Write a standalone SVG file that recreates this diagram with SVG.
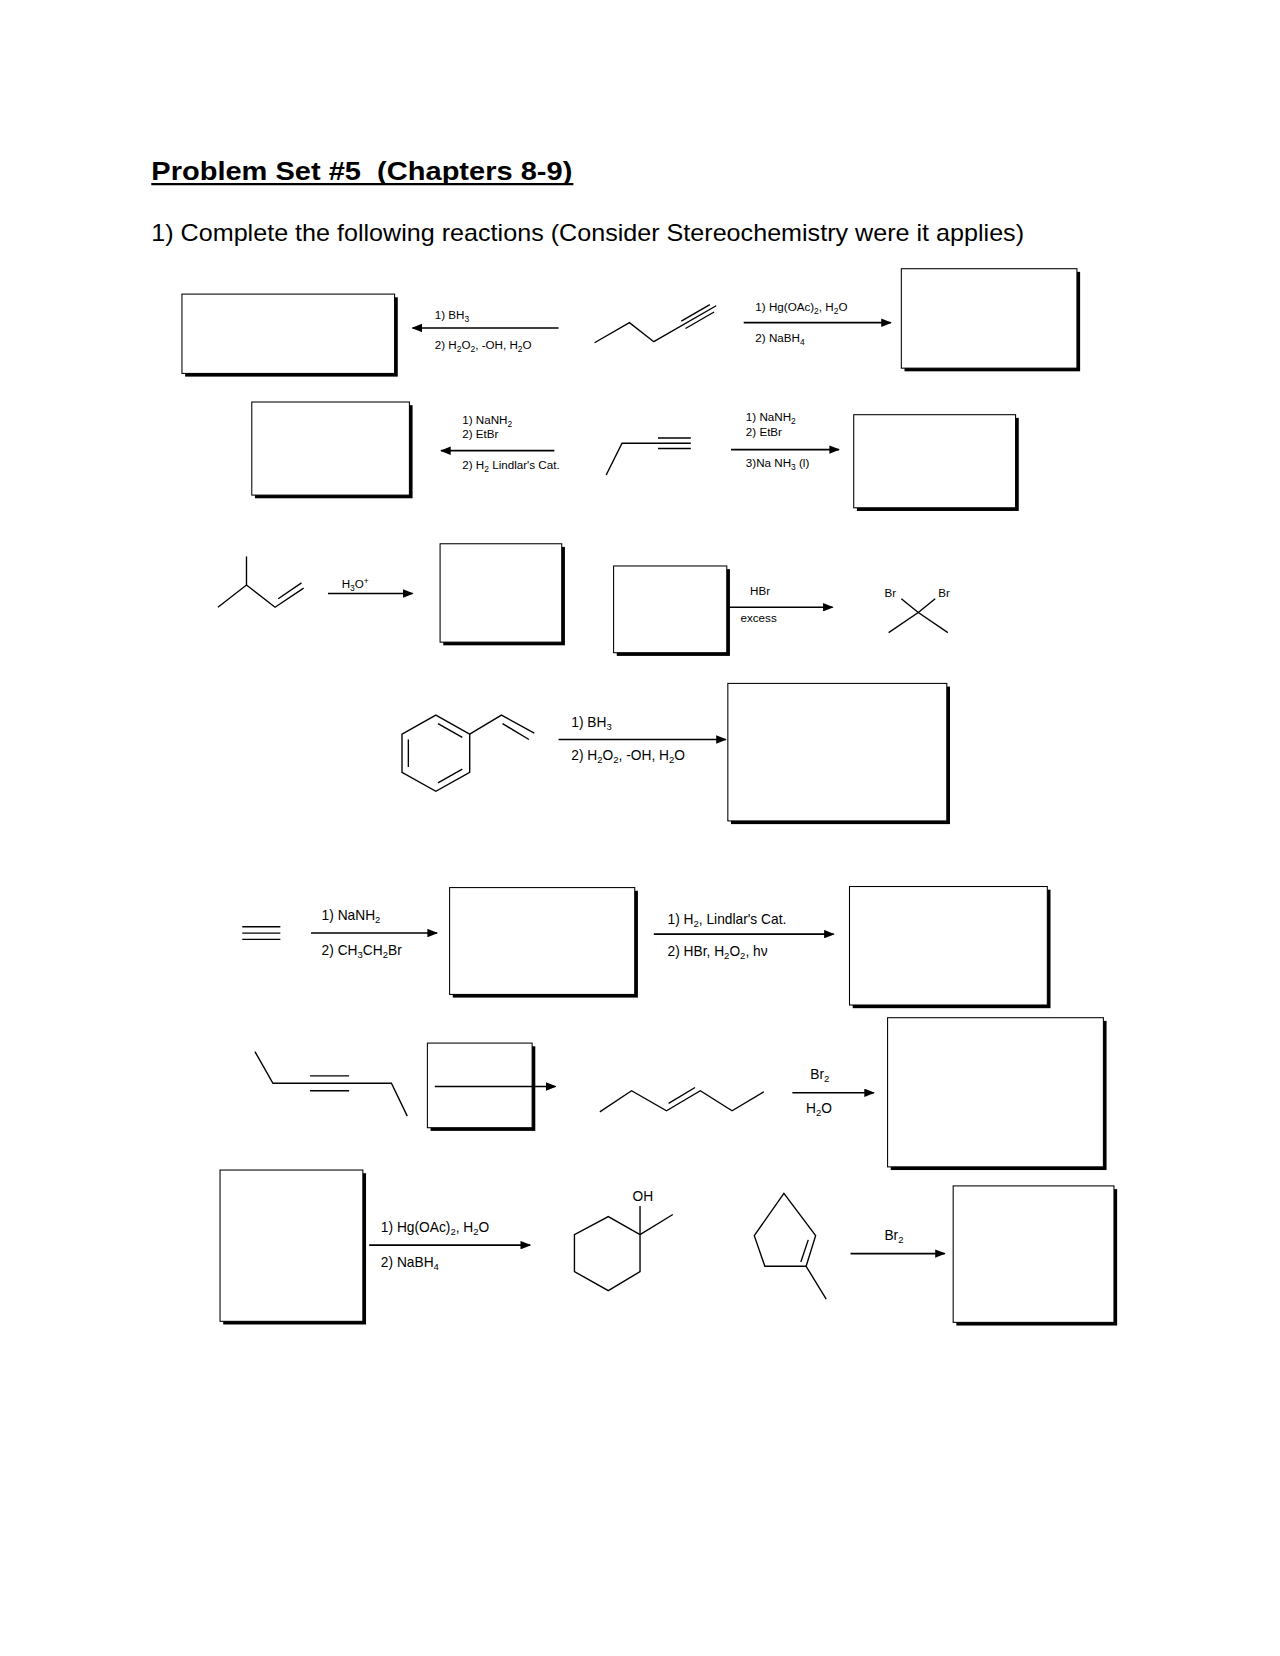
<svg xmlns="http://www.w3.org/2000/svg" width="1280" height="1656" viewBox="0 0 1280 1656">
<style>
text{font-family:"Liberation Sans",Arial,sans-serif;fill:#000}
.t{font-size:11px}.m{font-size:13px}
.s{font-size:8px;baseline-shift:-3px}.sm{font-size:9px;baseline-shift:-3px}
.b line,.b polyline,.b polygon{stroke:#000;stroke-width:1.3;fill:none}
.a{stroke:#000;stroke-width:1.5;fill:none}
.sh{fill:#000}.bx{fill:#fff;stroke:#000;stroke-width:1}
</style>
<defs>
<marker id="ah" markerWidth="10" markerHeight="8" refX="9" refY="4" orient="auto" markerUnits="userSpaceOnUse"><path d="M0,0 L10,4 L0,8 Z" fill="#000"/></marker>
</defs>
<rect width="1280" height="1656" fill="#fff"/>
<g transform="scale(1.0579)">
<g id="title">
<text x="143" y="170" font-size="25" font-weight="bold" xml:space="preserve" textLength="398" lengthAdjust="spacingAndGlyphs">Problem Set #5  (Chapters 8-9)</text>
<line x1="143" y1="174" x2="542" y2="174" stroke="#000" stroke-width="2"/>
<text x="143" y="228" font-size="22.5" textLength="825" lengthAdjust="spacingAndGlyphs">1) Complete the following reactions (Consider Stereochemistry were it applies)</text>
</g>
<g id="boxes">
<g id="box1"><rect class="sh" x="175" y="281" width="201" height="75"/><rect class="bx" x="172" y="278" width="201" height="75"/></g>
<g id="box2"><rect class="sh" x="855" y="257" width="166" height="94"/><rect class="bx" x="852" y="254" width="166" height="94"/></g>
<g id="box3"><rect class="sh" x="241" y="383" width="149" height="88"/><rect class="bx" x="238" y="380" width="149" height="88"/></g>
<g id="box4"><rect class="sh" x="810" y="395" width="153" height="88"/><rect class="bx" x="807" y="392" width="153" height="88"/></g>
<g id="box5"><rect class="sh" x="419" y="517" width="115" height="93"/><rect class="bx" x="416" y="514" width="115" height="93"/></g>
<g id="box6"><rect class="sh" x="583" y="538" width="107" height="82"/><rect class="bx" x="580" y="535" width="107" height="82"/></g>
<g id="box7"><rect class="sh" x="691" y="649" width="207" height="130"/><rect class="bx" x="688" y="646" width="207" height="130"/></g>
<g id="box8"><rect class="sh" x="428" y="842" width="175" height="101"/><rect class="bx" x="425" y="839" width="175" height="101"/></g>
<g id="box9"><rect class="sh" x="806" y="841" width="187" height="112"/><rect class="bx" x="803" y="838" width="187" height="112"/></g>
<g id="box10"><rect class="sh" x="407" y="989" width="99" height="80"/><rect class="bx" x="404" y="986" width="99" height="80"/></g>
<g id="box11"><rect class="sh" x="842" y="965" width="204" height="141"/><rect class="bx" x="839" y="962" width="204" height="141"/></g>
<g id="box12"><rect class="sh" x="211" y="1109" width="135" height="143"/><rect class="bx" x="208" y="1106" width="135" height="143"/></g>
<g id="box13"><rect class="sh" x="904" y="1124" width="152" height="129"/><rect class="bx" x="901" y="1121" width="152" height="129"/></g>
</g>
<g id="molecules" class="b">
<g id="butyne"><polyline points="562,324 595,305 618,323 677,289"/><line x1="646" y1="307" x2="673" y2="291.4" transform="translate(-2,-3.5)"/><line x1="646" y1="307" x2="673" y2="291.4" transform="translate(2,3.5)"/></g>
<g id="propyne"><polyline points="573,449 588,419 653,419"/><line x1="622" y1="414" x2="653" y2="414"/><line x1="622" y1="424" x2="653" y2="424"/></g>
<g id="methylbutene"><line x1="233" y1="526" x2="233" y2="553"/><polyline points="206,574 233,553 260,574 287,556"/><line x1="263" y1="566" x2="285" y2="551"/></g>
<g id="dibromide"><line x1="868" y1="579" x2="840" y2="598"/><line x1="868" y1="579" x2="896" y2="598"/><line x1="868" y1="579" x2="852" y2="566"/><line x1="868" y1="579" x2="884" y2="566"/></g>
<g id="styrene"><polygon points="412,676 444,694 444,730 412,748 380,730 380,694"/><line x1="386" y1="699" x2="386" y2="725"/><line x1="414" y1="684" x2="437" y2="697"/><line x1="414" y1="740" x2="437" y2="727"/><polyline points="444,694 474,676 505,693"/><line x1="475" y1="684" x2="500" y2="699"/></g>
<g id="ethyne"><line x1="229" y1="876" x2="265" y2="876"/><line x1="229" y1="882" x2="265" y2="882"/><line x1="229" y1="888" x2="265" y2="888"/></g>
<g id="hexyne"><polyline points="241,994 258,1024 370,1024 385,1055"/><line x1="293" y1="1017" x2="330" y2="1017"/><line x1="293" y1="1031" x2="330" y2="1031"/></g>
<g id="hexene"><polyline points="567,1051 597,1031 630,1050 662,1031 692,1050 722,1032"/><line x1="632" y1="1043" x2="657" y2="1028"/></g>
<g id="methylcyclohexanol"><polygon points="605,1167 575,1150 543,1167 543,1202 575,1220 605,1202"/><line x1="605" y1="1167" x2="605" y2="1140"/><line x1="605" y1="1167" x2="636" y2="1148"/></g>
<g id="methylcyclopentene"><polygon points="741,1128 771,1168 762,1197 723,1197 713,1168"/><line x1="764" y1="1172" x2="757" y2="1193"/><line x1="762" y1="1197" x2="781" y2="1228"/></g>
</g>
<g id="connectors">
<line class="a" x1="528" y1="310" x2="390" y2="310" marker-end="url(#ah)"/>
<line class="a" x1="703" y1="305" x2="842" y2="305" marker-end="url(#ah)"/>
<line class="a" x1="524" y1="426" x2="417" y2="426" marker-end="url(#ah)"/>
<line class="a" x1="691" y1="425" x2="793" y2="425" marker-end="url(#ah)"/>
<line class="a" x1="310" y1="561" x2="390" y2="561" marker-end="url(#ah)"/>
<line class="a" x1="689" y1="574" x2="787" y2="574" marker-end="url(#ah)"/>
<line class="a" x1="528" y1="699" x2="686" y2="699" marker-end="url(#ah)"/>
<line class="a" x1="294" y1="882" x2="413" y2="882" marker-end="url(#ah)"/>
<line class="a" x1="618" y1="883" x2="788" y2="883" marker-end="url(#ah)"/>
<line class="a" x1="411" y1="1027" x2="525" y2="1027" marker-end="url(#ah)"/>
<line class="a" x1="749" y1="1033" x2="826" y2="1033" marker-end="url(#ah)"/>
<line class="a" x1="349" y1="1177" x2="501" y2="1177" marker-end="url(#ah)"/>
<line class="a" x1="804" y1="1185" x2="893" y2="1185" marker-end="url(#ah)"/>
</g>
<g id="labels">
<text class="t" x="411" y="302">1) BH<tspan class="s">3</tspan></text>
<text class="t" x="411" y="330">2) H<tspan class="s">2</tspan><tspan>O</tspan><tspan class="s">2</tspan><tspan>, -OH, H</tspan><tspan class="s">2</tspan><tspan>O</tspan></text>
<text class="t" x="714" y="294">1) Hg(OAc)<tspan class="s">2</tspan><tspan>, H</tspan><tspan class="s">2</tspan><tspan>O</tspan></text>
<text class="t" x="714" y="323">2) NaBH<tspan class="s">4</tspan></text>
<text class="t" x="437" y="401">1) NaNH<tspan class="s">2</tspan></text>
<text class="t" x="437" y="414">2) EtBr</text>
<text class="t" x="437" y="443">2) H<tspan class="s">2</tspan><tspan> Lindlar's Cat.</tspan></text>
<text class="t" x="705" y="398">1) NaNH<tspan class="s">2</tspan></text>
<text class="t" x="705" y="412">2) EtBr</text>
<text class="t" x="705" y="441">3)Na NH<tspan class="s">3</tspan><tspan> (l)</tspan></text>
<text class="t" x="323" y="556">H<tspan class="s">3</tspan><tspan>O</tspan><tspan font-size="8" baseline-shift="4px">+</tspan></text>
<text class="t" x="709" y="562">HBr</text>
<text class="t" x="700" y="588">excess</text>
<text class="t" x="836" y="564">Br</text>
<text class="t" x="887" y="564">Br</text>
<text class="m" x="540" y="687">1) BH<tspan class="sm">3</tspan></text>
<text class="m" x="540" y="718">2) H<tspan class="sm">2</tspan><tspan>O</tspan><tspan class="sm">2</tspan><tspan>, -OH, H</tspan><tspan class="sm">2</tspan><tspan>O</tspan></text>
<text class="m" x="304" y="870">1) NaNH<tspan class="sm">2</tspan></text>
<text class="m" x="304" y="903">2) CH<tspan class="sm">3</tspan><tspan>CH</tspan><tspan class="sm">2</tspan><tspan>Br</tspan></text>
<text class="m" x="631" y="873">1) H<tspan class="sm">2</tspan><tspan>, Lindlar's Cat.</tspan></text>
<text class="m" x="631" y="904">2) HBr, H<tspan class="sm">2</tspan><tspan>O</tspan><tspan class="sm">2</tspan><tspan>, hν</tspan></text>
<text class="m" x="766" y="1020">Br<tspan class="sm">2</tspan></text>
<text class="m" x="762" y="1052">H<tspan class="sm">2</tspan><tspan>O</tspan></text>
<text class="m" x="360" y="1165">1) Hg(OAc)<tspan class="sm">2</tspan><tspan>, H</tspan><tspan class="sm">2</tspan><tspan>O</tspan></text>
<text class="m" x="360" y="1198">2) NaBH<tspan class="sm">4</tspan></text>
<text class="m" x="598" y="1135">OH</text>
<text class="m" x="836" y="1172">Br<tspan class="sm">2</tspan></text>
</g>
</g>
</svg>
